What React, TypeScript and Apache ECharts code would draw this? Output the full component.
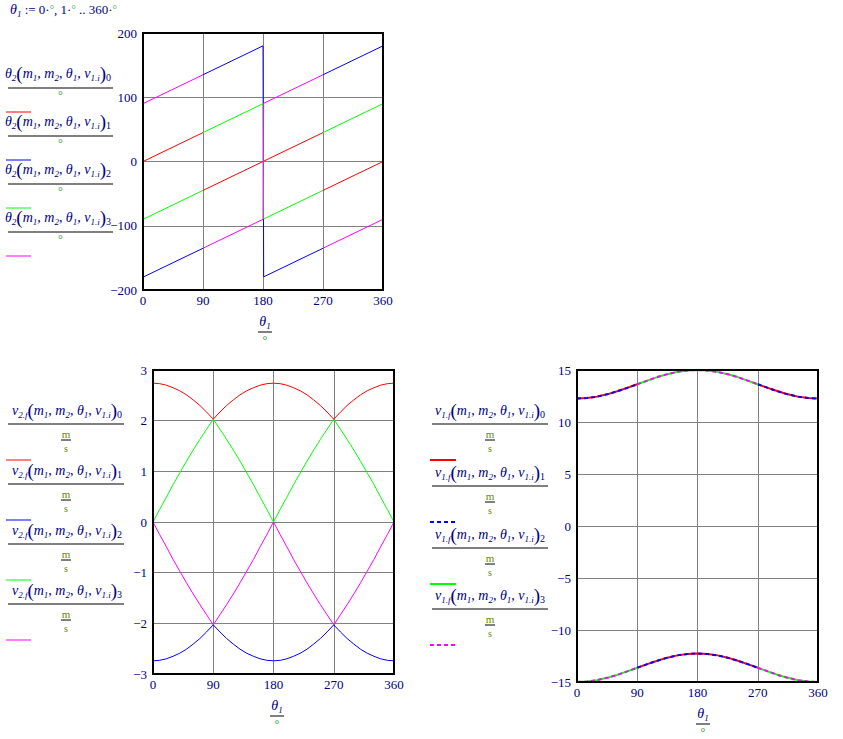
import React, { useEffect, useRef } from 'react';
import * as echarts from 'echarts';

// ---------- data ----------
// Plot 1: theta2 / deg vs theta1 / deg (null = gap in the trace)
const theta2X = [0, 90, 90, 90, 180, 181, 270, 270, 270, 360];
const theta2S0 = [0, 45, null, -45, 0, 0.5, 45, null, -45, 0];
const theta2S1 = [-180, -135, null, 135, 180, -179.5, -135, null, 135, 180];
const theta2S2 = [-90, -45, null, 45, 90, -89.5, -45, null, 45, 90];
const theta2S3 = [90, 135, null, -135, -90, 90.5, 135, null, -135, -90];

// Plot 2: v2f / (m/s) vs theta1 / deg
const v2X = [0, 10, 20, 30, 40, 50, 60, 70, 80, 90, 100, 110, 120, 130, 140, 150, 160, 170, 180,
  190, 200, 210, 220, 230, 240, 250, 260, 270, 280, 290, 300, 310, 320, 330, 340, 350, 360];
const v2S0 = [2.74, 2.73, 2.70, 2.65, 2.59, 2.51, 2.41, 2.30, 2.17, 2.03, 2.17, 2.30, 2.41, 2.51, 2.59, 2.65, 2.70, 2.73, 2.74,
  2.73, 2.70, 2.65, 2.59, 2.51, 2.41, 2.30, 2.17, 2.03, 2.17, 2.30, 2.41, 2.51, 2.59, 2.65, 2.70, 2.73, 2.74];
const v2S1 = [-2.74, -2.73, -2.70, -2.65, -2.59, -2.51, -2.41, -2.30, -2.17, -2.03, -2.17, -2.30, -2.41, -2.51, -2.59, -2.65, -2.70, -2.73, -2.74,
  -2.73, -2.70, -2.65, -2.59, -2.51, -2.41, -2.30, -2.17, -2.03, -2.17, -2.30, -2.41, -2.51, -2.59, -2.65, -2.70, -2.73, -2.74];
const v2S2 = [0, 0.25, 0.49, 0.74, 0.97, 1.20, 1.42, 1.63, 1.83, 2.03, 1.83, 1.63, 1.42, 1.20, 0.97, 0.74, 0.49, 0.25, 0,
  0.25, 0.49, 0.74, 0.97, 1.20, 1.42, 1.63, 1.83, 2.03, 1.83, 1.63, 1.42, 1.20, 0.97, 0.74, 0.49, 0.25, 0];
const v2S3 = [0, -0.25, -0.49, -0.74, -0.97, -1.20, -1.42, -1.63, -1.83, -2.03, -1.83, -1.63, -1.42, -1.20, -0.97, -0.74, -0.49, -0.25, 0,
  -0.25, -0.49, -0.74, -0.97, -1.20, -1.42, -1.63, -1.83, -2.03, -1.83, -1.63, -1.42, -1.20, -0.97, -0.74, -0.49, -0.25, 0];

// Plot 3: v1f / (m/s) vs theta1 / deg (null = gap in the trace)
const v1X = [0, 15, 30, 45, 60, 75, 90, 90, 90, 105, 120, 135, 150, 165, 180, 195, 210, 225, 240, 255, 270, 270, 270,
  285, 300, 315, 330, 345, 360];
const v1S0 = [12.26, 12.31, 12.44, 12.66, 12.95, 13.28, 13.63, null, -13.63, -13.28, -12.95, -12.66, -12.44, -12.31, -12.26,
  -12.31, -12.44, -12.66, -12.95, -13.28, -13.63, null, 13.63, 13.28, 12.95, 12.66, 12.44, 12.31, 12.26];
const v1S1 = [12.26, 12.31, 12.44, 12.66, 12.95, 13.28, 13.63, null, -13.63, -13.28, -12.95, -12.66, -12.44, -12.31, -12.26,
  -12.31, -12.44, -12.66, -12.95, -13.28, -13.63, null, 13.63, 13.28, 12.95, 12.66, 12.44, 12.31, 12.26];
const v1S2 = [-15.0, -14.95, -14.82, -14.60, -14.32, -13.98, -13.63, null, 13.63, 13.98, 14.32, 14.60, 14.82, 14.95, 15.0,
  14.95, 14.82, 14.60, 14.32, 13.98, 13.63, null, -13.63, -13.98, -14.32, -14.60, -14.82, -14.95, -15.0];
const v1S3 = [-15.0, -14.95, -14.82, -14.60, -14.32, -13.98, -13.63, null, 13.63, 13.98, 14.32, 14.60, 14.82, 14.95, 15.0,
  14.95, 14.82, 14.60, 14.32, 13.98, 13.63, null, -13.63, -13.98, -14.32, -14.60, -14.82, -14.95, -15.0];

const xTicks = { min: 0, max: 360, interval: 90 };
const yTicks1 = { min: -200, max: 200, interval: 100 };
const yTicks2 = { min: -3, max: 3, interval: 1 };
const yTicks3 = { min: -15, max: 15, interval: 5 };

// ---------- styles ----------
const NAVY = '#000080';
const UNIT = '#5f8a00';
const DEG = '#3a9a4a';
const SERIF = '"Liberation Serif", "Times New Roman", serif';
const COLORS = ['#ff0000', '#0000ff', '#00ff00', '#ff00ff'];

const pairs = (xs: number[], ys: (number | null)[]) =>
  xs.map((x, i) => [x, ys[i] === null ? '-' : ys[i]]);

const fmt = (v: number) => (v < 0 ? '\u2212' + Math.abs(v) : String(v));

const rich = {
  i: { fontFamily: SERIF, fontStyle: 'italic', fontSize: 14, fill: NAVY, lineHeight: 18, verticalAlign: 'middle' },
  n: { fontFamily: SERIF, fontSize: 14, fill: NAVY, lineHeight: 18, verticalAlign: 'middle' },
  s: { fontFamily: SERIF, fontStyle: 'italic', fontSize: 9, fill: NAVY, lineHeight: 11, verticalAlign: 'bottom' },
  sn: { fontFamily: SERIF, fontSize: 10, fill: NAVY, lineHeight: 11, verticalAlign: 'bottom' },
  p: { fontFamily: SERIF, fontSize: 19, fill: NAVY, lineHeight: 18, verticalAlign: 'middle' },
  d: { fontFamily: SERIF, fontSize: 11, fill: DEG, lineHeight: 18, verticalAlign: 'middle' },
};

const fnText = (v: string, vsub: string, idx: number) =>
  `{i|${v}}{s|${vsub}}{p|(}{i|m}{s|1}{n|, }{i|m}{s|2}{n|, }{i|θ}{s|1}{n|, }{i|v}{s|1.i}{p|)}{sn|${idx}}`;

function fraction(cx: number, cy: number, barY: number, x1: number, x2: number, text: string, unit: 'deg' | 'ms', unitY: number) {
  const els: any[] = [
    { type: 'text', x: cx, y: cy, style: { text, rich, align: 'center', verticalAlign: 'middle' } },
    { type: 'line', shape: { x1, y1: barY, x2, y2: barY }, style: { stroke: '#000', lineWidth: 1 } },
  ];
  if (unit === 'deg') {
    els.push({ type: 'text', x: (x1 + x2) / 2, y: unitY, style: { text: '°', fill: DEG, font: `12px ${SERIF}`, align: 'center', verticalAlign: 'middle' } });
  } else {
    const ux = (x1 + x2) / 2;
    els.push({ type: 'text', x: ux, y: unitY, style: { text: 'm', fill: UNIT, font: `11px ${SERIF}`, align: 'center', verticalAlign: 'middle' } });
    els.push({ type: 'line', shape: { x1: ux - 5, y1: unitY + 6, x2: ux + 5, y2: unitY + 6 }, style: { stroke: '#000', lineWidth: 1 } });
    els.push({ type: 'text', x: ux, y: unitY + 14, style: { text: 's', fill: UNIT, font: `10px ${SERIF}`, align: 'center', verticalAlign: 'middle' } });
  }
  return els;
}

function sample(x1: number, x2: number, y: number, color: string, width: number, dash?: number[]) {
  return { type: 'line', shape: { x1, y1: y, x2, y2: y }, style: { stroke: color, lineWidth: width, lineDash: dash } };
}

function frame(left: number, top: number, width: number, height: number) {
  return { type: 'rect', z: 100, shape: { x: left, y: top, width, height }, style: { fill: 'none', stroke: '#000', lineWidth: 2 } };
}

function axisTitle(cx: number, cy: number) {
  return [
    { type: 'text', x: cx, y: cy, style: { text: '{i|θ}{s|1}', rich, align: 'center', verticalAlign: 'middle' } },
    { type: 'line', shape: { x1: cx - 7, y1: cy + 11, x2: cx + 7, y2: cy + 11 }, style: { stroke: '#000', lineWidth: 1 } },
    { type: 'text', x: cx, y: cy + 19, style: { text: '°', fill: DEG, font: `12px ${SERIF}`, align: 'center', verticalAlign: 'middle' } },
  ];
}

const G = [
  { left: 143, top: 33, width: 240, height: 257 },
  { left: 153, top: 370, width: 241, height: 304 },
  { left: 577, top: 370, width: 241, height: 312 },
];

export default function App() {
  const ref = useRef<HTMLDivElement>(null);
  useEffect(() => {
    if (!ref.current) return;
    const chart = echarts.init(ref.current, undefined, { renderer: 'svg' });

    const xAxis = (gi: number) => ({
      type: 'value', gridIndex: gi, ...xTicks,
      axisLine: { show: false }, axisTick: { show: false },
      splitLine: { show: true, lineStyle: { color: '#808080', width: 1 } },
      axisLabel: { color: NAVY, fontFamily: SERIF, fontSize: 13, margin: 4, formatter: fmt, showMinLabel: true, showMaxLabel: true, hideOverlap: false },
    });
    const yAxis = (gi: number, t: any) => ({
      type: 'value', gridIndex: gi, ...t,
      axisLine: { show: false }, axisTick: { show: false },
      splitLine: { show: true, lineStyle: { color: '#808080', width: 1 } },
      axisLabel: { color: NAVY, fontFamily: SERIF, fontSize: 13, margin: 6, formatter: fmt, showMinLabel: true, showMaxLabel: true, hideOverlap: false },
    });

    const line = (gi: number, xs: number[], ys: (number | null)[], color: string, width: number, dash?: number[]) => ({
      type: 'line', xAxisIndex: gi, yAxisIndex: gi, data: pairs(xs, ys), showSymbol: false, symbol: 'none',
      connectNulls: false, lineStyle: { color, width, type: dash ? dash : 'solid' }, silent: true,
    });

    const graphic: any[] = [];
    // header definition
    graphic.push({
      type: 'text', x: 10, y: 9,
      style: {
        text: '{i|θ}{s|1}{n| := 0·}{d|°}{n|, 1·}{d|°}{n| .. 360·}{d|°}',
        rich: { ...rich, i: { ...rich.i, fontSize: 14 }, n: { ...rich.n, fontSize: 13 } },
        align: 'left', verticalAlign: 'middle',
      },
    });

    // legend plot 1
    const l1y = [76, 124, 172, 220];
    l1y.forEach((y, k) => {
      graphic.push(...fraction(58, y - 3, y + 12, 8, 113, fnText('θ', '2', k), 'deg', y + 19));
      graphic.push(sample(6, 31, y + 36, COLORS[k], 1));
    });
    // legend plot 2
    const l2y = [413, 473, 533, 593];
    l2y.forEach((y, k) => {
      graphic.push(...fraction(67, y - 3, y + 11, 8, 124, fnText('v', '2.f', k), 'ms', y + 21));
      graphic.push(sample(6, 31, y + 47, COLORS[k], 1));
    });
    // legend plot 3
    const l3y = [413, 475, 537, 598];
    l3y.forEach((y, k) => {
      graphic.push(...fraction(490, y - 3, y + 11, 432, 548, fnText('v', '1.f', k), 'ms', y + 21));
      graphic.push(sample(430, 456, y + 47, COLORS[k], 2, k % 2 === 1 ? [4, 3] : undefined));
    });

    graphic.push(...axisTitle(265, 321));
    graphic.push(...axisTitle(277, 705));
    graphic.push(...axisTitle(703, 713));
    G.forEach((g) => graphic.push(frame(g.left, g.top, g.width, g.height)));

    chart.setOption({
      animation: false,
      grid: G.map((g) => ({ ...g, containLabel: false })),
      xAxis: [xAxis(0), xAxis(1), xAxis(2)],
      yAxis: [yAxis(0, yTicks1), yAxis(1, yTicks2), yAxis(2, yTicks3)],
      series: [
        line(0, theta2X, theta2S0, COLORS[0], 1),
        line(0, theta2X, theta2S1, COLORS[1], 1),
        line(0, theta2X, theta2S2, COLORS[2], 1),
        line(0, theta2X, theta2S3, COLORS[3], 1),
        line(1, v2X, v2S0, COLORS[0], 1),
        line(1, v2X, v2S1, COLORS[1], 1),
        line(1, v2X, v2S2, COLORS[2], 1),
        line(1, v2X, v2S3, COLORS[3], 1),
        line(2, v1X, v1S0, COLORS[0], 2),
        line(2, v1X, v1S1, COLORS[1], 2, [4, 3]),
        line(2, v1X, v1S2, COLORS[2], 2),
        line(2, v1X, v1S3, COLORS[3], 2, [4, 3]),
      ],
      graphic,
    });
    return () => chart.dispose();
  }, []);
  return <div ref={ref} style={{ position: 'absolute', left: 0, top: 0, width: 843, height: 739, background: '#fff' }} />;
}
